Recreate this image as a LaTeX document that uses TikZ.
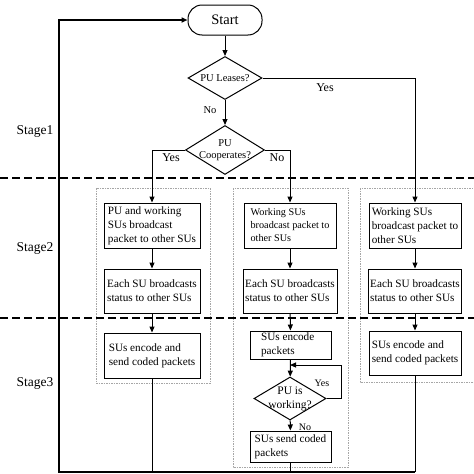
\documentclass[tikz,border=0pt]{standalone}
\usepackage{fontspec}
\setmainfont{Liberation Serif}
\usetikzlibrary{shapes.geometric}
\usetikzlibrary{arrows.meta}

\begin{document}
\begin{tikzpicture}[x=1pt,y=-1pt,line width=1pt,
                >={Triangle[length=6pt,width=5pt]},
                box/.style={draw,rectangle,align=left,inner xsep=1.5pt,inner ysep=1pt,font=\fontsize{11.2}{14}\selectfont},
                dec/.style={draw,diamond,inner sep=-3pt,shape aspect=1.7,align=center},
                lbl/.style={inner sep=0pt},
                stagelbl/.style={font=\fontsize{13.5}{16}\selectfont},
                grp/.style={draw=gray!70,line width=0.6pt,dash pattern=on 1.5pt off 1pt},
                sep/.style={line width=1.2pt,dash pattern=on 8pt off 4pt}]
                \useasboundingbox (0,0) rectangle (474,474);

                \draw[grp] (96,188) rectangle (210,383);
                \draw[grp] (233,188) rectangle (348,467);
                \draw[grp] (360,188) rectangle (480,382);

                \draw[sep] (0,178) -- (474,178);
                \draw[sep] (0,318) -- (474,318);

                \node[stagelbl] (s1) at (35,131) {Stage1};
                \node[stagelbl] (s2) at (35,248) {Stage2};
                \node[stagelbl] (s3) at (35,383) {Stage3};

                \node[draw,rounded corners=14pt,minimum width=74pt,minimum height=30pt,font=\fontsize{14.5}{16}\selectfont] (start) at (225,20) {Start};
                \node[dec,minimum width=74pt,minimum height=43pt,font=\fontsize{10.5}{12}\selectfont] (lease) at (225,78) {PU Leases?};
                \node[dec,minimum width=79pt,minimum height=49pt,font=\fontsize{10.5}{12}\selectfont] (coop) at (225,150) {PU\\Cooperates?};

                \node[box,minimum width=96pt,minimum height=45pt] (p1) at (152,225.5) {PU and working\\SUs broadcast\\packet to other SUs};
                \node[box,minimum width=96pt,minimum height=44pt] (p2) at (152,291) {Each SU broadcasts\\status to other SUs};
                \node[box,minimum width=96pt,minimum height=45pt] (p3) at (152,355.5) {SUs encode and\\send coded packets};

                \node[box,minimum width=92pt,minimum height=45pt,font=\fontsize{10.2}{13}\selectfont] (q1) at (290,225.5) {Working SUs\\broadcast packet to\\other SUs};
                \node[box,minimum width=94pt,minimum height=44pt] (q2) at (290,291) {Each SU broadcasts\\status to other SUs};
                \node[box,minimum width=81pt,minimum height=28pt] (q3) at (290.5,345) {SUs encode\phantom{d}\\packets};
                \node[dec,inner sep=-4pt,minimum width=72pt,minimum height=43pt,font=\fontsize{11.5}{14}\selectfont] (q4) at (290,398.5) {PU is\\working?};
                \node[box,minimum width=81pt,minimum height=31pt] (q5) at (290.5,446.5) {SUs send coded\\packets};

                \node[box,minimum width=92pt,minimum height=45pt] (r1) at (415,225.5) {Working SUs\\broadcast packet to\\other SUs};
                \node[box,minimum width=92pt,minimum height=44pt] (r2) at (415,291) {Each SU broadcasts\\status to other SUs};
                \node[box,minimum width=92pt,minimum height=44pt] (r3) at (415,353) {SUs encode and\\send coded packets};

                \node[lbl,font=\fontsize{12}{14}\selectfont] (yl) at (325,88) {Yes};
                \node[lbl,font=\fontsize{10.5}{12}\selectfont] (nl) at (210,110) {No};
                \node[lbl,font=\fontsize{12}{14}\selectfont] (yc) at (171,158) {Yes};
                \node[lbl,font=\fontsize{12}{14}\selectfont] (nc) at (277,158) {No};
                \node[lbl,font=\fontsize{10}{12}\selectfont] (yw) at (322,383) {Yes};
                \node[lbl,font=\fontsize{10}{12}\selectfont] (nw) at (305,427) {No};

                \coordinate (bl) at (59,472);
                \coordinate (tl) at (59,20);
                \coordinate (qj) at (290,365);
                \coordinate (qr) at (341,365);

                \draw[->] (start) -- (lease);
                \draw[->] (lease.east) -| (r1.north);
                \draw[->] (lease) -- (coop);
                \draw[->] (coop.west) -| (p1.north);
                \draw[->] (coop.east) -| (q1.north);

                \draw[->] (p1) -- (p2);
                \draw[->] (p2) -- (p3);
                \draw (p3) -- (p3 |- bl);

                \draw[->] (q1) -- (q2);
                \draw[->] (q2) -- (q3);
                \draw[->] (q3) -- (q4);
                \draw[->] (q4.east) -| (qr) -- (qj);
                \draw[->] (q4) -- (q5);
                \draw (q5) -- (q5 |- bl);

                \draw[->] (r1) -- (r2);
                \draw[->] (r2) -- (r3);
                \draw (r3) -- (r3 |- bl);

                \draw[->,line width=1.7pt] (r3 |- bl) -- (bl) -- (tl) -- (start.west);
            \end{tikzpicture}
\end{document}
